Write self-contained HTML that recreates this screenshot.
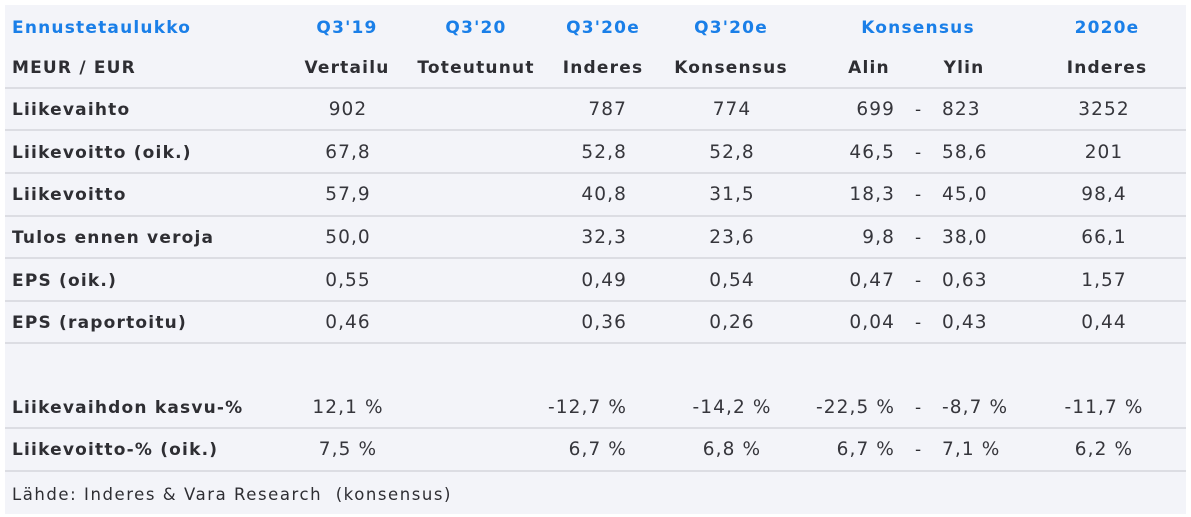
<!DOCTYPE html>
<html><head><meta charset="utf-8"><style>
body{margin:0;width:1191px;height:517px;background:#fff;font-family:"DejaVu Sans","Liberation Sans",sans-serif;color:#2e2e33;position:relative;overflow:hidden}
#bg{position:absolute;left:5px;top:5px;width:1181px;height:509px;background:#f3f4f9}
.t{position:absolute;font-size:17px;white-space:nowrap;line-height:20px;letter-spacing:1.2px}
.n{font-size:18.5px;letter-spacing:1.1px;color:#36363c}
.b{font-weight:bold}
.bl{color:#1a7fe8;font-weight:bold}
.c{transform:translateX(-50%)}
.r{transform:translateX(-100%)}
.ln{position:absolute;left:5px;width:1181px;height:2px;background:#dcdde3}
</style></head><body>
<div id="bg"></div>
<div class="ln" style="top:87px"></div>
<div class="ln" style="top:129px"></div>
<div class="ln" style="top:172px"></div>
<div class="ln" style="top:215px"></div>
<div class="ln" style="top:257px"></div>
<div class="ln" style="top:300px"></div>
<div class="ln" style="top:342px"></div>
<div class="ln" style="top:427px"></div>
<div class="ln" style="top:470px"></div>

<div class="t bl" style="left:12px;top:18px">Ennustetaulukko</div>
<div class="t bl c" style="left:347px;top:18px">Q3'19</div>
<div class="t bl c" style="left:476px;top:18px">Q3'20</div>
<div class="t bl c" style="left:603px;top:18px">Q3'20e</div>
<div class="t bl c" style="left:731px;top:18px">Q3'20e</div>
<div class="t bl c" style="left:918px;top:18px">Konsensus</div>
<div class="t bl c" style="left:1107px;top:18px">2020e</div>

<div class="t b" style="left:12px;top:58px">MEUR / EUR</div>
<div class="t b c" style="left:347px;top:58px">Vertailu</div>
<div class="t b c" style="left:476px;top:58px">Toteutunut</div>
<div class="t b c" style="left:603px;top:58px">Inderes</div>
<div class="t b c" style="left:731px;top:58px">Konsensus</div>
<div class="t b c" style="left:869px;top:58px">Alin</div>
<div class="t b c" style="left:964px;top:58px">Ylin</div>
<div class="t b c" style="left:1107px;top:58px">Inderes</div>

<div id="rows"></div>
<script>
var rows=[
["Liikevaihto",100,"902","787","774","699","823","3252"],
["Liikevoitto (oik.)",143,"67,8","52,8","52,8","46,5","58,6","201"],
["Liikevoitto",185,"57,9","40,8","31,5","18,3","45,0","98,4"],
["Tulos ennen veroja",228,"50,0","32,3","23,6","9,8","38,0","66,1"],
["EPS (oik.)",271,"0,55","0,49","0,54","0,47","0,63","1,57"],
["EPS (raportoitu)",313,"0,46","0,36","0,26","0,04","0,43","0,44"],
["Liikevaihdon kasvu-%",398,"12,1 %","-12,7 %","-14,2 %","-22,5 %","-8,7 %","-11,7 %"],
["Liikevoitto-% (oik.)",440,"7,5 %","6,7 %","6,8 %","6,7 %","7,1 %","6,2 %"]];
var h="";
rows.forEach(function(r){var y=r[1];
h+='<div class="t b" style="left:12px;top:'+y+'px">'+r[0]+'</div>';
h+='<div class="t n c" style="left:348px;top:'+y+'px">'+r[2]+'</div>';
h+='<div class="t n r" style="left:627px;top:'+y+'px">'+r[3]+'</div>';
h+='<div class="t n c" style="left:732px;top:'+y+'px">'+r[4]+'</div>';
h+='<div class="t n r" style="left:895px;top:'+y+'px">'+r[5]+'</div>';
h+='<div class="t" style="left:915px;top:'+y+'px">-</div>';
h+='<div class="t n" style="left:942px;top:'+y+'px">'+r[6]+'</div>';
h+='<div class="t n c" style="left:1104px;top:'+y+'px">'+r[7]+'</div>';});
document.getElementById("rows").innerHTML=h;
</script>
<div class="t" style="left:12px;top:485px;font-size:16.5px;letter-spacing:1.55px">Lähde: Inderes &amp; Vara Research&nbsp; (konsensus)</div>
</body></html>
